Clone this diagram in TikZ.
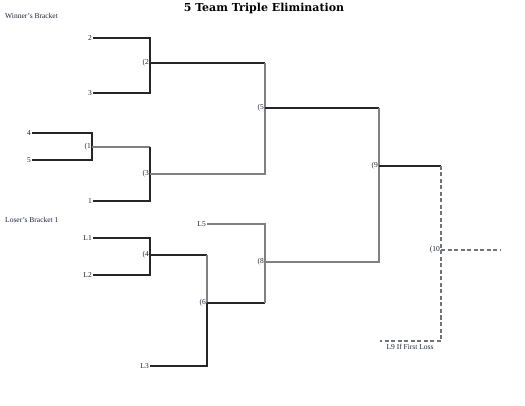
\documentclass[tikz,border=0pt]{standalone}
\usepackage{fontspec}
\setmainfont{Liberation Serif}
\newfontfamily\titlefont{DejaVu Serif}
\usetikzlibrary{positioning}
\definecolor{labcol}{RGB}{30,34,66}

\begin{document}
\begin{tikzpicture}[x=1pt,y=-1pt,line width=1.2pt,
                    dark/.style={draw=black!85},
                    pale/.style={draw=black!50},
                    dashline/.style={draw=black!55,dash pattern=on 4pt off 2.5pt,line width=1.2pt}]
                    \tikzstyle{every node}=[inner sep=0.6pt,text=labcol,
                            font=\fontsize{7.5}{8}\selectfont]

  \useasboundingbox (0,0) rectangle (525,406);

  \node (title) at (264,8) {\titlefont\bfseries\fontsize{11}{12}\selectfont\color{black} 5 Team Triple Elimination};
  \node (wb) [anchor=west] at (4,16) {Winner's Bracket};
  \node (lb) [anchor=west] at (4,220) {Loser's Bracket 1};

  % teams
  \node (t2) [anchor=east] at (93,38) {2};
  \node (t3) [anchor=east] at (93,93) {3};
  \node (t4) [anchor=east] at (32,133) {4};
  \node (t5) [anchor=east] at (32,160) {5};
  \node (t1) [anchor=east] at (93,201) {1};
  \node (l1) [anchor=east] at (93,238) {L1};
  \node (l2) [anchor=east] at (93,275) {L2};
  \node (l3) [anchor=east] at (150,366) {L3};
  \node (l5) [anchor=east] at (207,224) {L5};

  % games
  \coordinate (j1) at (92,147);
  \coordinate (j2) at (150,63);
  \coordinate (j3) at (150,174);
  \coordinate (j4) at (150,255);
  \coordinate (j5) at (265,108);
  \coordinate (j6) at (207,303);
  \coordinate (j8) at (265,262);
  \coordinate (j9) at (379,166);
  \coordinate (j10) at (441,250);
  \coordinate (jend) at (500,250);
  \coordinate (jl9) at (380,341);

  \node (m1) [left=0pt of j1] {(1};
  \node (m2) [left=0pt of j2] {(2};
  \node (m3) [left=0pt of j3] {(3};
  \node (m4) [left=0pt of j4] {(4};
  \node (m5) [left=0pt of j5] {(5};
  \node (m6) [left=0pt of j6] {(6};
  \node (m8) [left=0pt of j8] {(8};
  \node (m9) [left=0pt of j9] {(9};
  \node (m10) [left=0pt of j10] {(10};
  \node (ll9) [anchor=north] at (410,343) {L9 If First Loss};

  % winner's bracket
  \draw[dark] (t2.east) -| (j2) |- (t3.east);
  \draw[dark] (t4.east) -| (j1) |- (t5.east);
  \draw[pale] (j1) -- (j1 -| j3);
  \draw[dark] (j1 -| j3) -- (j3) |- (t1.east);
  \draw[dark] (j2) -- (j2 -| j5);
  \draw[pale] (j2 -| j5) -- (j3 -| j5) -- (j3);
  \draw[dark] (j5) -- (j5 -| j9);

  % loser's bracket
  \draw[dark] (l1.east) -| (j4) |- (l2.east);
  \draw[dark] (j4) -- (j4 -| j6);
  \draw[pale] (j4 -| j6) -- (j6);
  \draw[dark] (j6) |- (l3.east);
  \draw[dark] (j6) -- (j6 -| j8);
  \draw[pale] (l5.east) -| (j8) |- (j6 -| j8);
  \draw[pale] (j8) -- (j8 -| j9) -- (j9) -- (j5 -| j9);
  \draw[dark] (j9) -- (j9 -| j10);

  % if necessary
  \draw[dashline] (j9 -| j10) -- (j10) -- (jl9 -| j10) -- (jl9);
  \draw[dashline] (j10) -- (jend);

\end{tikzpicture}
\end{document}
